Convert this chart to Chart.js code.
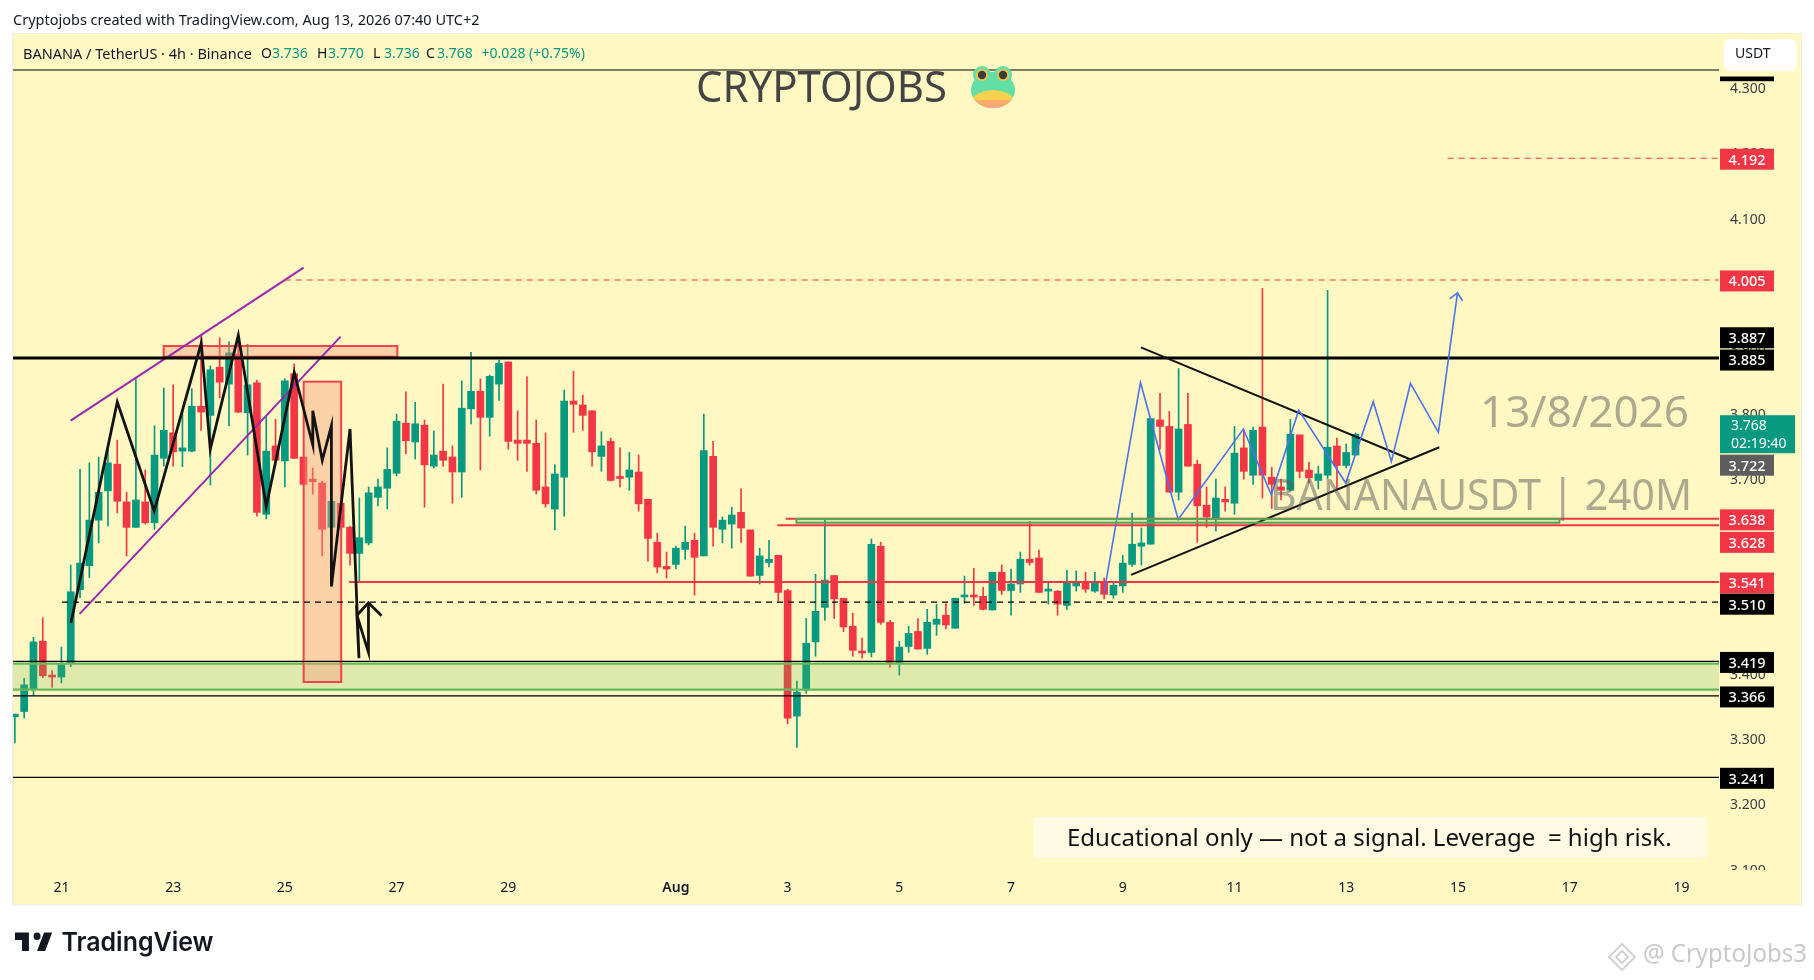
<!DOCTYPE html>
<html>
<head>
<meta charset="utf-8">
<style>html,body{margin:0;padding:0;background:#fff;overflow:hidden}canvas{display:block}</style>
<script src="https://cdn.jsdelivr.net/npm/chart.js@4"></script>
</head>
<body>
<canvas id="c" width="1814" height="980"></canvas>
<script>
const opens=[3.334,3.342,3.377,3.450,3.397,3.395,3.417,3.529,3.566,3.636,
3.681,3.722,3.664,3.625,3.664,3.632,3.731,3.770,3.742,3.742,
3.811,3.797,3.871,3.845,3.891,3.801,3.847,3.645,3.750,3.727,
3.861,3.733,3.699,3.693,3.625,3.662,3.625,3.585,3.601,3.671,
3.685,3.708,3.785,3.756,3.782,3.719,3.742,3.733,3.710,3.807,
3.834,3.794,3.845,3.879,3.759,3.759,3.754,3.687,3.653,3.702,
3.819,3.813,3.804,3.734,3.757,3.702,3.702,3.710,3.668,3.602,
3.565,3.568,3.591,3.605,3.581,3.734,3.622,3.630,3.648,3.621,
3.551,3.571,3.582,3.528,3.335,3.375,3.449,3.502,3.551,3.516,
3.473,3.433,3.433,3.596,3.479,3.416,3.442,3.465,3.439,3.476,
3.490,3.470,3.518,3.519,3.519,3.498,3.556,3.528,3.538,3.576,
3.578,3.527,3.527,3.505,3.535,3.541,3.527,3.541,3.521,3.535,
3.568,3.596,3.599,3.790,3.780,3.679,3.783,3.722,3.659,3.639,
3.668,3.662,3.747,3.705,3.779,3.702,3.687,3.682,3.767,3.713,
3.697,3.705,3.750,3.720,3.736];
const highs=[3.338,3.393,3.456,3.486,3.405,3.441,3.567,3.714,3.724,3.733,
3.744,3.759,3.679,3.853,3.713,3.781,3.839,3.844,3.805,3.838,
3.920,3.873,3.916,3.910,3.920,3.906,3.851,3.795,3.791,3.853,
3.876,3.733,3.716,3.696,3.667,3.665,3.627,3.670,3.687,3.699,
3.747,3.799,3.833,3.817,3.790,3.773,3.845,3.750,3.850,3.894,
3.853,3.859,3.882,3.879,3.804,3.856,3.790,3.770,3.721,3.836,
3.865,3.828,3.804,3.772,3.762,3.747,3.740,3.736,3.668,3.616,
3.587,3.596,3.627,3.616,3.799,3.757,3.641,3.656,3.684,3.621,
3.593,3.605,3.582,3.530,3.389,3.485,3.553,3.636,3.551,3.516,
3.493,3.455,3.607,3.602,3.482,3.450,3.473,3.485,3.499,3.507,
3.508,3.516,3.550,3.562,3.533,3.556,3.567,3.561,3.587,3.634,
3.590,3.541,3.528,3.559,3.558,3.556,3.556,3.547,3.539,3.582,
3.647,3.624,3.792,3.831,3.803,3.869,3.831,3.728,3.687,3.699,
3.687,3.780,3.774,3.779,3.992,3.717,3.699,3.791,3.767,3.725,
3.719,3.989,3.762,3.753,3.770];
const lows=[3.294,3.332,3.367,3.394,3.379,3.386,3.411,3.517,3.548,3.601,
3.627,3.647,3.581,3.625,3.630,3.622,3.719,3.719,3.718,3.741,
3.774,3.690,3.824,3.781,3.801,3.736,3.642,3.638,3.728,3.687,
3.731,3.691,3.676,3.581,3.623,3.622,3.567,3.541,3.598,3.658,
3.653,3.704,3.738,3.730,3.656,3.716,3.719,3.662,3.671,3.784,
3.713,3.765,3.820,3.745,3.728,3.711,3.676,3.656,3.621,3.642,
3.771,3.774,3.719,3.711,3.696,3.687,3.682,3.650,3.573,3.555,
3.547,3.561,3.576,3.521,3.581,3.596,3.601,3.593,3.602,3.550,
3.538,3.564,3.512,3.323,3.287,3.370,3.427,3.482,3.485,3.465,
3.427,3.424,3.426,3.476,3.410,3.398,3.433,3.438,3.430,3.459,
3.469,3.470,3.508,3.505,3.498,3.498,3.522,3.490,3.525,3.567,
3.525,3.507,3.490,3.499,3.527,3.525,3.525,3.515,3.516,3.525,
3.565,3.567,3.599,3.745,3.679,3.667,3.719,3.602,3.625,3.619,
3.650,3.645,3.699,3.691,3.670,3.654,3.667,3.681,3.701,3.693,
3.684,3.700,3.682,3.716,3.736];
const closes=[3.338,3.383,3.449,3.397,3.395,3.414,3.526,3.570,3.636,3.679,
3.724,3.665,3.625,3.667,3.632,3.736,3.774,3.741,3.747,3.811,
3.802,3.867,3.848,3.893,3.802,3.844,3.648,3.742,3.728,3.850,
3.731,3.691,3.695,3.622,3.665,3.625,3.585,3.609,3.678,3.687,
3.714,3.788,3.758,3.784,3.721,3.736,3.728,3.710,3.808,3.834,
3.794,3.857,3.877,3.757,3.754,3.754,3.682,3.661,3.707,3.819,
3.814,3.797,3.741,3.750,3.697,3.700,3.713,3.661,3.608,3.564,
3.561,3.593,3.602,3.579,3.743,3.625,3.636,3.644,3.624,3.550,
3.581,3.576,3.525,3.332,3.372,3.447,3.496,3.544,3.515,3.472,
3.436,3.432,3.599,3.479,3.416,3.441,3.462,3.438,3.479,3.484,
3.475,3.516,3.519,3.518,3.499,3.556,3.528,3.538,3.576,3.571,
3.525,3.528,3.507,3.541,3.539,3.530,3.539,3.522,3.536,3.570,
3.599,3.601,3.792,3.780,3.679,3.776,3.719,3.658,3.641,3.670,
3.664,3.739,3.711,3.774,3.705,3.691,3.682,3.768,3.711,3.701,
3.707,3.748,3.720,3.740,3.768];

const xTickPositions=[5,17,29,41,53,71,83,95,107,119,131,143,155,167,179];
const xTickLabels=['21','23','25','27','29','Aug','3','5','7','9','11','13','15','17','19'];
const yTickValues=[4.3,4.2,4.1,4.0,3.9,3.8,3.7,3.6,3.5,3.4,3.3,3.2,3.1];

const channelUpper=[[5.99,3.789],[31.02,4.024]];
const channelLower=[[6.96,3.492],[34.99,3.918]];
const zigzagBlack=[[6.03,3.4785],[11,3.8175],[14.97,3.650],[20.02,3.908],[20.99,3.745],[24,3.920],[27,3.657],[30.01,3.863],[32,3.7515],[32,3.804],[33.02,3.728],[34,3.781],[34,3.534],[36,3.776],[36.96,3.424],[36.74,3.490],[37.98,3.433],[37.98,3.509]];
const arrowBlack=[[36.74,3.490],[37.98,3.509],[39.39,3.489]];
const triangleUpper=[[120.95,3.9015],[149.8,3.730]];
const triangleLower=[[119.9,3.552],[153,3.748]];
const zigzagBlue=[[116.98,3.524],[120.9,3.8475],[124.95,3.637],[131.95,3.776],[134.95,3.675],[137.9,3.805],[142.95,3.693],[145.9,3.818],[147.85,3.726],[149.9,3.846],[152.9,3.771],[154.95,3.985]];
const arrowBlue=[[154.1,3.976],[154.95,3.985],[155.5,3.973]];
const levelTop=[[-0.2,4.3275],[183.04,4.3275]];
const level3885=[[-0.2,3.885],[183.04,3.885]];
const level3419=[[-0.2,3.419],[183.04,3.419]];
const level3366=[[-0.2,3.366],[183.04,3.366]];
const level3241=[[-0.2,3.241],[183.04,3.241]];
const level3510=[[5.06,3.51],[183.04,3.51]];
const level3541=[[35.9,3.541],[183.04,3.541]];
const level3628=[[81.9,3.628],[183.04,3.628]];
const level3638=[[82.8,3.638],[183.04,3.638]];
const level4005=[[28.98,4.005],[183.04,4.005]];
const level4192=[[153.9,4.192],[183.04,4.192]];

const zoneSupply=[15.98,41.08,3.9035,3.887];
const zoneDrop=[31.02,35.05,3.8487,3.3874];
const zoneBand=[-0.2,183.04,3.4155,3.3756];
const zoneRange=[83.95,165.9,3.638,3.632];

const tagTexts=['4.192','4.005','3.887','3.885','3.722','3.638','3.628','3.541','3.510','3.419','3.366','3.241'];
const tagPrices=[4.192,4.005,3.887,3.885,3.722,3.638,3.628,3.541,3.510,3.419,3.366,3.241];
const tagShifts=[0,0,-20,1,0,0,16,0,1,0,0,0];
const tagKinds=['r','r','k','k','g','r','r','r','k','k','k','k'];
const lastPrice=3.768, lastCountdown='02:19:40';

const FONT='"Noto Sans", sans-serif';
const GREEN='#089981', RED='#f23645', PANEL='#fff8c3';

const lineSets=[
 [channelUpper,'#9c27b0',2,[]],[channelLower,'#9c27b0',2,[]],
 [level3510,'#000000',1.2,[6,5]],[level3541,RED,2,[]],[level3628,RED,2,[]],[level3638,RED,2,[]],
 [level4005,RED,1.1,[6,5]],[level4192,RED,1.1,[6,5]],
 [levelTop,'#000000',1.2,[]],[level3885,'#000000',3,[]],[level3419,'#000000',1.2,[]],[level3366,'#000000',1.2,[]],[level3241,'#000000',1.2,[]],
 [zigzagBlack,'#131313',2.8,[]],[arrowBlack,'#131313',2.8,[]],
 [triangleUpper,'#131313',2,[]],[triangleLower,'#131313',2,[]],
 [zigzagBlue,'#4a73ee',1.6,[]],[arrowBlue,'#4a73ee',1.6,[]]
];
const idx=opens.map((_,i)=>i);
const colors=idx.map(i=>closes[i]>=opens[i]?GREEN:RED);
const datasets=[
 {type:'bar',label:'wicks',data:idx.map(i=>({x:i,y:[lows[i],highs[i]]})),backgroundColor:colors,barThickness:1,grouped:false,order:20,borderWidth:0},
 {type:'bar',label:'bodies',data:idx.map(i=>({x:i,y:[opens[i],closes[i]]})),backgroundColor:colors,barThickness:7,grouped:false,order:19,borderWidth:0,minBarLength:2}
];
lineSets.forEach((s,k)=>datasets.push({type:'line',label:'d'+k,data:s[0].map(p=>({x:p[0],y:p[1]})),borderColor:s[1],borderWidth:s[2],borderDash:s[3],pointRadius:0,tension:0,fill:false,order:10-k*0.1,borderJoinStyle:'miter'}));

function text(ctx,str,x,y,font,color,align,maxW){ctx.font=font;ctx.fillStyle=color;ctx.textAlign=align||'left';ctx.textBaseline='middle';if(maxW)ctx.fillText(str,x,y,maxW);else ctx.fillText(str,x,y);}
function zone(chart,z,fill,stroke,lw,edges){
 const sx=chart.scales.x,sy=chart.scales.y,c=chart.ctx;
 const x0=sx.getPixelForValue(z[0]),x1=sx.getPixelForValue(z[1]),y0=sy.getPixelForValue(z[2]),y1=sy.getPixelForValue(z[3]);
 c.save();c.fillStyle=fill;c.fillRect(x0,y0,x1-x0,y1-y0);c.strokeStyle=stroke;c.lineWidth=lw;
 if(edges){c.beginPath();c.moveTo(x0,y0);c.lineTo(x1,y0);c.moveTo(x0,y1);c.lineTo(x1,y1);c.stroke();}
 else c.strokeRect(x0,y0,x1-x0,y1-y0);
 c.restore();
}
function frog(c){
 c.save();
 c.fillStyle='#62dfa6';c.beginPath();c.arc(982,75,9,0,7);c.arc(1003,75,9,0,7);c.fill();
 c.beginPath();c.ellipse(993,90,22,18,0,0,7);c.fill();
 c.save();c.beginPath();c.ellipse(993,90,22,18,0,0,7);c.clip();
 c.fillStyle='#f8d24e';c.beginPath();c.ellipse(993,110,26,20,0,0,7);c.fill();
 c.fillStyle='#f8a96c';c.fillRect(968,100,50,9);c.fillStyle='#fb9fa0';c.fillRect(968,106,50,3);c.restore();
 [982,1003].forEach(x=>{c.fillStyle='#f4c63f';c.beginPath();c.arc(x,75,6,0,7);c.fill();c.fillStyle='#3d3d3d';c.beginPath();c.arc(x,75,4.2,0,7);c.fill();});
 c.restore();
}
function tvLogo(c){
 c.save();c.translate(12.7,925);c.scale(1.16,1.24);c.fillStyle='#131722';
 c.fill(new Path2D('M14 6H2v6h6v9h6V6zm14 15h-7l6-15h7l-6 15zm-7-9a3 3 0 1 0 0-6 3 3 0 0 0 0 6z'));c.restore();
}
function diamond(c,x,y,r){c.beginPath();c.moveTo(x,y-r);c.lineTo(x+r,y);c.lineTo(x,y+r);c.lineTo(x-r,y);c.closePath();c.stroke();}

const chrome={id:'chrome',
 beforeDraw(chart){
  const c=chart.ctx;c.save();c.fillStyle='#fff';c.fillRect(0,0,1814,980);
  c.fillStyle='#f1efdc';c.fillRect(12,33,1790,872.5);
  c.fillStyle=PANEL;c.fillRect(13.5,34,1787.5,870);c.restore();
 },
 afterDatasetDraw(chart,args){
  if(args.index!==1)return;
  zone(chart,zoneBand,'rgba(102,187,86,0.22)','#66b85a',2.2,true);
  zone(chart,zoneDrop,'rgba(247,155,125,0.42)','#f4414f',2,false);
  zone(chart,zoneSupply,'rgba(247,155,125,0.42)','#f4414f',2,false);
 },
 afterDatasetsDraw(chart){
  const c=chart.ctx;c.save();
  zone(chart,zoneRange,'rgba(102,187,86,0.25)','#5ba352',2,false);
  text(c,'13/8/2026',1480,414,'44px '+FONT,'rgba(90,90,90,0.5)','left',210);
  text(c,'BANANAUSDT | 240M',1270,497,'44px '+FONT,'rgba(90,90,90,0.5)','left',422);
  c.fillStyle='#fefae3';c.fillRect(1034,817,673,41);
  text(c,'Educational only — not a signal. Leverage  = high risk.',1067,839,'24px '+FONT,'#111');
  text(c,'CRYPTOJOBS',696,90,'43px '+FONT,'#444444','left',251);
  frog(c);c.restore();
 },
 afterDraw(chart){
  const c=chart.ctx,sy=chart.scales.y;c.save();
  c.fillStyle=PANEL;c.fillRect(1720,870,81,34);
  const yTop=sy.getPixelForValue(4.3175);c.fillStyle='#000';c.fillRect(1720,yTop,54,4.7);
  const fills={r:RED,k:'#000000',g:'#5d5d5d'};
  tagTexts.forEach((t,i)=>{
   const y=sy.getPixelForValue(tagPrices[i])+1+tagShifts[i];
   c.fillStyle=fills[tagKinds[i]];c.fillRect(1720,y-10.5,54,21);
   text(c,t,1747,y+1.2,'500 14.5px '+FONT,'#fff','center');
  });
  const ly=sy.getPixelForValue(lastPrice);
  c.fillStyle=GREEN;c.fillRect(1720,ly-19,75,38);
  text(c,lastPrice.toFixed(3),1731,ly-8,'14px '+FONT,'#fff');
  text(c,lastCountdown,1731,ly+10,'14px '+FONT,'#fff');
  text(c,'Cryptojobs created with TradingView.com, Aug 13, 2026 07:40 UTC+2',13,21,'14.5px '+FONT,'#131722');
  const lf='14px '+FONT;
  text(c,'BANANA / TetherUS · 4h · Binance',23,54.5,'14.5px '+FONT,'#131722');
  [['O','3.736',261],['H','3.770',317],['L','3.736',373],['C','3.768',426]].forEach(a=>{
   text(c,a[0],a[2],54.5,lf,'#131722');text(c,a[1],a[2]+11,54.5,lf,GREEN);});
  text(c,'+0.028 (+0.75%)',481.6,54.5,lf,GREEN);
  c.fillStyle='#fff';c.beginPath();c.roundRect(1724,39,73,32,6);c.fill();
  text(c,'USDT',1735,54.5,lf,'#131722');
  tvLogo(c);
  text(c,'TradingView',61.5,943,'600 26px Inter, '+FONT,'#131722','left',152);
  c.strokeStyle='#d2d2d2';c.lineWidth=2;diamond(c,1622,957,13);diamond(c,1622,957,6);
  text(c,'@ CryptoJobs3',1643,955,'25px '+FONT,'#c9c9c9','left',164);
  c.restore();
 }
};

new Chart(document.getElementById('c'),{
 data:{datasets},
 plugins:[chrome],
 options:{
  responsive:false,animation:false,devicePixelRatio:1,
  layout:{padding:{left:13,top:34,right:0,bottom:0}},
  plugins:{legend:{display:false},tooltip:{enabled:false},title:{display:false}},
  scales:{
   x:{type:'linear',offset:false,min:-0.2,max:183.04,grid:{display:false,drawTicks:false},border:{display:false},
    afterBuildTicks(s){s.ticks=xTickPositions.map(v=>({value:v}));},
    afterFit(s){s.height=110;},
    ticks:{autoSkip:false,maxRotation:0,padding:10,color:'#131722',
     font:c=>({family:FONT,size:14,weight:c.tick&&c.tick.value===71?'600':'400'}),
     callback:v=>xTickLabels[xTickPositions.indexOf(v)]}},
   y:{type:'linear',position:'right',min:3.2-66/651,max:3.2+770/651,grid:{display:false,drawTicks:false},border:{display:false},
    afterBuildTicks(s){s.ticks=yTickValues.map(v=>({value:v}));},
    afterFit(s){s.width=95;},
    ticks:{autoSkip:false,padding:11,labelOffset:1.5,color:'#3a3d45',font:{family:FONT,size:14},callback:v=>v.toFixed(3)}}
  }
 }
});
</script>
</body>
</html>
